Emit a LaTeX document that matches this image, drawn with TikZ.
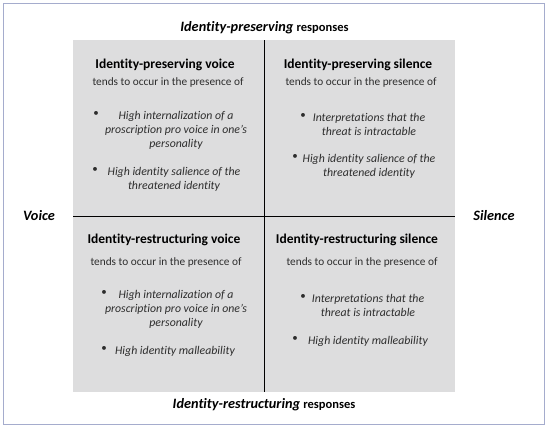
\documentclass[tikz,border=0pt]{standalone}
\usepackage{fontspec}
\setmainfont{Carlito}[Ligatures=NoCommon]
\usepackage{tikz}
\usetikzlibrary{positioning}
\usepackage{xcolor}

\definecolor{framecol}{RGB}{165,172,205}
\definecolor{boxgrey}{RGB}{221,221,222}
\definecolor{textgrey}{RGB}{45,45,45}

\tikzset{
    quadtitle/.style={font=\fontsize{13.5}{15}\selectfont\bfseries, text=black, anchor=mid, inner sep=0pt},
    quadline/.style={font=\fontsize{11.3}{13}\selectfont, text=textgrey, anchor=mid, inner sep=0pt},
    bulletitem/.style={font=\fontsize{11.8}{14}\selectfont\itshape, text=textgrey, align=center, anchor=north, inner sep=0pt},
    bulletdot/.style={font=\fontsize{11}{12}\selectfont, text=textgrey, anchor=mid, inner sep=0pt},
    axislabel/.style={font=\fontsize{14.3}{16}\selectfont\bfseries\itshape, anchor=mid, inner sep=0pt}
}

\begin{document}
\begin{tikzpicture}[x=1pt, y=-1pt]
    % 1. Outer frame and the grey field
    \useasboundingbox (0,0) rectangle (548,429);
    \draw[framecol, line width=1pt] (3,3) rectangle (544,424);
    \fill[boxgrey] (73,40) rectangle (455,392);

    % 2. Dividing lines
    \coordinate (top) at (264,40);
    \coordinate (bottom) at (264,392);
    \coordinate (left) at (73,216);
    \coordinate (right) at (455,216);
    \draw[black, line width=1pt] (top) -- (bottom);
    \draw[black, line width=1pt] (left) -- (right);

    % 3. Labels round the field
    \node[axislabel] (pres) at (264.5,29) {Identity-preserving \textup{\fontsize{12.5}{14}\selectfont responses}};
    \node[axislabel] (restr) at (264,406) {Identity-restructuring \textup{\fontsize{12.5}{14}\selectfont responses}};
    \node[axislabel] (voice) at (39,218) {Voice};
    \node[axislabel] (silence) at (494,218) {Silence};

    % 4. Top left quadrant
    \node[quadtitle] (tlhead) at (165,66) {Identity-preserving voice};
    \node[quadline] (tlsub) at (168,83) {tends to occur in the presence of};
    \node[bulletdot] (tlbulleta) at (96,114) {\textbullet};
    \node[bulletitem] (tlitema) at (176,111) {High internalization of a\\proscription pro voice in one’s\\personality};
    \node[bulletdot] (tlbulletb) at (95,170) {\textbullet};
    \node[bulletitem] (tlitemb) at (174,167) {High identity salience of the\\threatened identity};

    % 5. Top right quadrant
    \node[quadtitle] (trhead) at (358,66) {Identity-preserving silence};
    \node[quadline] (trsub) at (361,83) {tends to occur in the presence of};
    \node[bulletdot] (trbulleta) at (303,116) {\textbullet};
    \node[bulletitem] (tritema) at (369,113) {Interpretations that the\\threat is intractable};
    \node[bulletdot] (trbulletb) at (295,157) {\textbullet};
    \node[bulletitem] (tritemb) at (369,154) {High identity salience of the\\threatened identity};

    % 6. Bottom left quadrant
    \node[quadtitle] (blhead) at (164,241) {Identity-restructuring voice};
    \node[quadline] (blsub) at (166,263) {tends to occur in the presence of};
    \node[bulletdot] (blbulleta) at (104,293) {\textbullet};
    \node[bulletitem] (blitema) at (176,290) {High internalization of a\\proscription pro voice in one’s\\personality};
    \node[bulletdot] (blbulletb) at (104,349) {\textbullet};
    \node[bulletitem] (blitemb) at (175,346) {High identity malleability};

    % 7. Bottom right quadrant
    \node[quadtitle] (brhead) at (357,241) {Identity-restructuring silence};
    \node[quadline] (brsub) at (362,263) {tends to occur in the presence of};
    \node[bulletdot] (brbulleta) at (303,297) {\textbullet};
    \node[bulletitem] (britema) at (368,294) {Interpretations that the\\threat is intractable};
    \node[bulletdot] (brbulletb) at (295,339) {\textbullet};
    \node[bulletitem] (britemb) at (368,336) {High identity malleability};
\end{tikzpicture}
\end{document}
